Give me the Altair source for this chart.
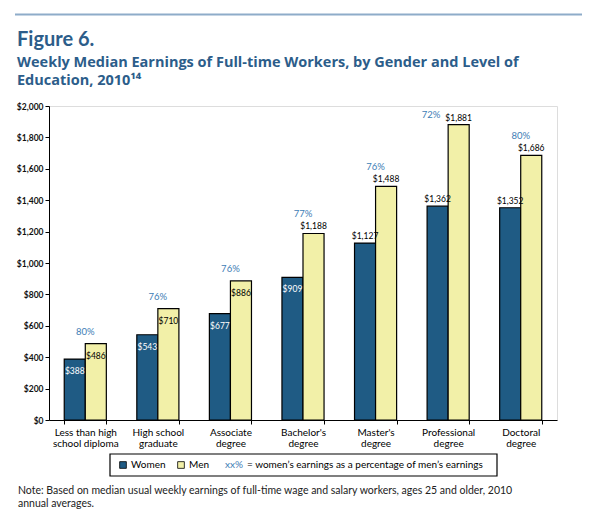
import altair as alt
import pandas as pd

# ---- data ----
categories = [
    "Less than high\nschool diploma",
    "High school\ngraduate",
    "Associate\ndegree",
    "Bachelor's\ndegree",
    "Master's\ndegree",
    "Professional\ndegree",
    "Doctoral\ndegree",
]
women = [388, 543, 677, 909, 1127, 1362, 1352]
men = [486, 710, 886, 1188, 1488, 1881, 1686]
pct = [80, 76, 76, 77, 76, 72, 80]
genders = ["Women", "Men"]
y_ticks = [0, 200, 400, 600, 800, 1000, 1200, 1400, 1600, 1800, 2000]

long_df = pd.DataFrame(
    [{"Education": c, "Gender": "Women", "Earnings": w} for c, w in zip(categories, women)]
    + [{"Education": c, "Gender": "Men", "Earnings": m} for c, m in zip(categories, men)]
)
wide_df = pd.DataFrame({"Education": categories, "Men": men, "Pct": pct})

FONT = "Lato"
TFONT = "Open Sans"
BLUE_T = "#2c5d8a"
PCT_C = "#3d7db5"
WOMEN_C = "#1f5b84"
MEN_C = "#f2f0a8"

x_axis = alt.Axis(
    title=None,
    labelAngle=0,
    labelExpr="split(datum.label, '\\n')",
    labelFontSize=10,
    labelColor="black",
    labelPadding=3,
    labelLineHeight=11,
    tickBand="extent",
    tickSize=4,
    tickColor="black",
    domainColor="black",
)
y_axis = alt.Axis(
    title=None,
    values=y_ticks,
    format="$,d",
    labelFontSize=8.5,
    labelFontWeight="bold",
    labelColor="#111111",
    labelPadding=2,
    labelOverlap=False,
    tickSize=4,
    tickColor="black",
    domainColor="black",
    grid=False,
)
x_scale = alt.Scale(paddingInner=0.42, paddingOuter=0.21)
y_scale = alt.Scale(domain=[0, 2000], nice=False)
xo_enc = alt.XOffset(
    "Gender:N", sort=genders, scale=alt.Scale(domain=genders, paddingInner=0, paddingOuter=0)
)

base = alt.Chart(long_df)

bars = base.mark_bar(stroke="black", strokeWidth=1.2).encode(
    x=alt.X("Education:N", sort=categories, scale=x_scale, axis=x_axis),
    xOffset=xo_enc,
    y=alt.Y("Earnings:Q", scale=y_scale, axis=y_axis),
    color=alt.Color(
        "Gender:N",
        sort=genders,
        scale=alt.Scale(domain=genders, range=[WOMEN_C, MEN_C]),
        legend=alt.Legend(
            title=None,
            orient="none",
            direction="horizontal",
            legendX=69,
            legendY=354,
            symbolType="square",
            symbolSize=45,
            symbolStrokeColor="black",
            symbolStrokeWidth=0.8,
            labelFontSize=10,
            labelColor="black",
            labelOffset=3,
            columnPadding=10,
            padding=0,
        ),
    ),
)


def val_labels(gender, inside, color):
    cond = f"datum.Gender == '{gender}' && datum.Earnings " + ("< 1000" if inside else ">= 1000")
    return base.transform_filter(cond).mark_text(
        baseline="middle" if inside else "bottom",
        dy=12 if inside else -2,
        fontSize=8.5,
        color=color,
        font=FONT,
    ).encode(
        x=alt.X("Education:N", sort=categories, scale=x_scale, axis=x_axis),
        xOffset=xo_enc,
        y=alt.Y("Earnings:Q", scale=y_scale, axis=y_axis),
        text=alt.Text("Earnings:Q", format="$,d"),
    )


labels = [
    val_labels("Women", True, "white"),
    val_labels("Women", False, "black"),
    val_labels("Men", True, "black"),
    val_labels("Men", False, "black"),
]

pbase = alt.Chart(wide_df).transform_calculate(label="datum.Pct + '%'")


def pct_layer(cond, dx, dy):
    return pbase.transform_filter(cond).mark_text(
        baseline="middle", dx=dx, dy=dy, fontSize=9.5, color=PCT_C, font=FONT
    ).encode(
        x=alt.X("Education:N", sort=categories, scale=x_scale, axis=x_axis),
        y=alt.Y("Men:Q", scale=y_scale, axis=y_axis),
        text="label:N",
    )


pct_layers = [
    pct_layer("datum.Men < 1000", 0, -12),
    pct_layer("datum.Men >= 1000 && datum.Men < 1800", 0, -19),
    pct_layer("datum.Men >= 1800", -17, -10),
]

one = alt.Data(values=[{"k": 1}])


def deco_text(txt, x, y, size, color, weight="normal", baseline="alphabetic", font=FONT, lh=None):
    kw = dict(text=txt, align="left", baseline=baseline, fontSize=size, color=color,
              fontWeight=weight, font=font)
    if lh is not None:
        kw["lineHeight"] = lh
    return alt.Chart(one).mark_text(**kw).encode(x=alt.value(x), y=alt.value(y))


top_rule = alt.Chart(one).mark_rule(color="#8eacc9", strokeWidth=2.2).encode(
    x=alt.value(-34), x2=alt.value(534), y=alt.value(-91.5)
)

legend_box = alt.Chart(one).mark_rect(
    fill="white", stroke="black", strokeWidth=1.2
).encode(x=alt.value(61), x2=alt.value(448), y=alt.value(348), y2=alt.value(370))

decor = [
    top_rule,
    deco_text("Figure 6.", -32, -60, 20, BLUE_T, "bold", font=FONT),
    deco_text(
        ["Weekly Median Earnings of Full-time Workers, by Gender and Level of",
         "Education, 2010\u00b9\u2074"],
        -32, -39, 14.5, BLUE_T, "bold", font=TFONT, lh=18,
    ),
    legend_box,
    deco_text("xx%", 176, 359, 10, PCT_C, baseline="middle"),
    deco_text("= women\u2019s earnings as a percentage of men\u2019s earnings", 198, 359, 10, "black", baseline="middle"),
    deco_text(
        ["Note: Based on median usual weekly earnings of full-time wage and salary workers, ages 25 and older, 2010",
         "annual averages."],
        -31, 385, 10.5, "#222222", baseline="middle", lh=13,
    ),
]

chart = alt.layer(*decor, bars, *labels, *pct_layers).properties(
    width=508,
    height=314,
    autosize=alt.AutoSizeParams(type="none"),
    padding={"left": 41, "top": 98, "right": 25, "bottom": 90},
    background="white",
).configure_view(
    fill="#e4e5e7", stroke="black", strokeWidth=1.5
).configure(font=FONT).configure_axis(labelFont=FONT).configure_axisY(
    labelOverlap=False
).configure_legend(labelFont=FONT)

chart.save("out.html", embed_options={"renderer": "svg", "actions": False})
